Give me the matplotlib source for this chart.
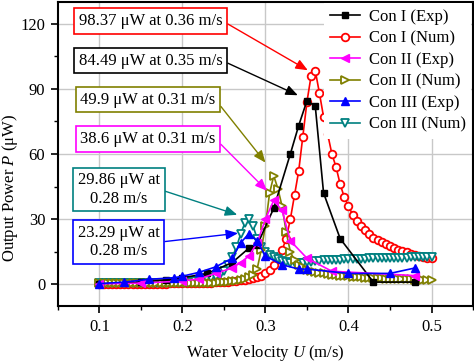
import matplotlib
matplotlib.use("Agg")
import matplotlib.pyplot as plt
from matplotlib.ticker import MultipleLocator

plt.rcParams['font.family'] = ['Liberation Serif', 'DejaVu Serif']
plt.rcParams['mathtext.fontset'] = 'custom'
plt.rcParams['mathtext.rm'] = 'Liberation Serif'
plt.rcParams['mathtext.it'] = 'Liberation Serif:italic'

# ---------------- data ----------------
x_num = [0.100, 0.105, 0.110, 0.115, 0.120, 0.125, 0.130, 0.135, 0.140, 0.145,
         0.150, 0.155, 0.160, 0.165, 0.170, 0.175, 0.180, 0.185, 0.190, 0.195,
         0.200, 0.205, 0.210, 0.215, 0.220, 0.225, 0.230, 0.235, 0.240, 0.245,
         0.250, 0.255, 0.260, 0.265, 0.270, 0.275, 0.280, 0.285, 0.290, 0.295,
         0.300, 0.305, 0.310, 0.315, 0.320, 0.325, 0.330, 0.335, 0.340, 0.345,
         0.350, 0.355, 0.360, 0.365, 0.370, 0.375, 0.380, 0.385, 0.390, 0.395,
         0.400, 0.405, 0.410, 0.415, 0.420, 0.425, 0.430, 0.435, 0.440, 0.445,
         0.450, 0.455, 0.460, 0.465, 0.470, 0.475, 0.480, 0.485, 0.490, 0.495,
         0.500]

con1_num = [0.1, 0.1, 0.1, 0.1, 0.1, 0.1, 0.2, 0.2, 0.2, 0.2,
            0.2, 0.2, 0.3, 0.3, 0.3, 0.3, 0.3, 0.4, 0.4, 0.4,
            0.5, 0.5, 0.5, 0.6, 0.6, 0.7, 0.7, 0.8, 0.9, 1.0,
            1.1, 1.2, 1.4, 1.6, 1.8, 2.1, 2.4, 2.8, 3.3, 4.0,
            5.0, 6.5, 9.0, 12.0, 15.7, 21, 30, 41, 52, 68,
            84, 96, 98.37, 88, 77, 69, 60, 54, 46, 40,
            36, 32, 29, 27, 25, 23, 21.5, 20.3, 19.3, 18.4,
            17.5, 16.7, 16.0, 15.3, 14.7, 14.1, 13.6, 13.1, 12.7, 12.3,
            12.0]

con2_num = [0.4, 0.4, 0.4, 0.4, 0.4, 0.4, 0.4, 0.4, 0.4, 0.4,
            0.4, 0.4, 0.4, 0.5, 0.5, 0.5, 0.5, 0.5, 0.5, 0.5,
            0.5, 0.5, 0.6, 0.6, 0.6, 0.7, 0.7, 0.8, 0.8, 0.9,
            1.0, 1.1, 1.3, 1.5, 1.8, 2.4, 3.2, 4.5, 7.0, 16,
            27, 42, 49.9, 44, 36, 24, 15, 11, 9.0, 7.8,
            6.8, 6.2, 5.7, 5.3, 5.0, 4.7, 4.4, 4.2, 4.0, 3.8,
            3.6, 3.4, 3.3, 3.2, 3.1, 3.0, 2.9, 2.8, 2.7, 2.6,
            2.5, 2.5, 2.4, 2.4, 2.3, 2.3, 2.2, 2.2, 2.1, 2.1,
            2.0]

con3_num = [0.5, 0.5, 0.5, 0.5, 0.5, 0.5, 0.5, 0.5, 0.5, 0.5,
            0.6, 0.6, 0.6, 0.7, 0.7, 0.7, 0.8, 0.8, 0.9, 0.9,
            1.0, 1.1, 1.2, 1.4, 1.6, 1.9, 2.3, 2.8, 3.3, 4.2,
            6.0, 9.0, 12.5, 17, 23, 28, 29.86, 27, 21, 17,
            15, 13.5, 12.5, 11.5, 10.7, 10.2, 9.8, 9.7, 9.8, 10.0,
            10.2, 10.4, 10.6, 10.8, 11.0, 11.1, 11.2, 11.3, 11.4, 11.5,
            11.6, 11.7, 11.7, 11.8, 11.8, 11.9, 11.9, 12.0, 12.0, 12.1,
            12.1, 12.2, 12.2, 12.3, 12.3, 12.4, 12.4, 12.5, 12.5, 12.5,
            12.6]

con1_exp_x = [0.10, 0.15, 0.18, 0.20, 0.23, 0.26, 0.28, 0.29, 0.31, 0.33,
              0.34, 0.35, 0.36, 0.37, 0.39, 0.43, 0.48]
con1_exp_y = [0.2, 1.0, 2.0, 3.0, 5.0, 10.0, 16.6, 18.0, 35.0, 60.0,
              73.0, 84.49, 82.0, 42.0, 21.0, 1.0, 1.0]

con2_exp_x = [0.10, 0.15, 0.20, 0.22, 0.24, 0.26, 0.27, 0.28, 0.29, 0.30,
              0.31, 0.32, 0.33, 0.35, 0.38, 0.48]
con2_exp_y = [0.2, 0.5, 1.5, 2.5, 5.0, 7.5, 10.0, 13.0, 19.0, 30.0,
              38.6, 34.0, 20.0, 12.0, 6.0, 4.0]

con3_exp_x = [0.10, 0.13, 0.16, 0.19, 0.20, 0.22, 0.24, 0.26, 0.27, 0.28,
              0.29, 0.30, 0.32, 0.34, 0.35, 0.40, 0.45, 0.48]
con3_exp_y = [0.3, 1.0, 2.3, 3.0, 3.7, 5.5, 8.0, 12.0, 19.0, 23.29,
              20.0, 13.0, 9.0, 7.0, 7.0, 5.0, 5.0, 7.5]

x_ticks = [0.1, 0.2, 0.3, 0.4, 0.5]
y_ticks = [0, 30, 60, 90, 120]

annotations = [
    ("98.37 \u03bcW at 0.36 m/s", (0.351, 98.5), (0.224, 0.937), 'red'),
    ("84.49 \u03bcW at 0.35 m/s", (0.339, 87.0), (0.224, 0.806), 'black'),
    ("49.9 \u03bcW at 0.31 m/s", (0.300, 56.0), (0.217, 0.678), '#808000'),
    ("38.6 \u03bcW at 0.31 m/s", (0.302, 43.0), (0.217, 0.549), '#ff00ff'),
    ("29.86 \u03bcW at\n0.28 m/s", (0.266, 32.0), (0.147, 0.383), '#008080'),
    ("23.29 \u03bcW at\n0.28 m/s", (0.267, 23.5), (0.147, 0.210), 'blue'),
]

# ---------------- figure ----------------
fig = plt.figure(figsize=(4.74, 3.63), dpi=100)
ax = fig.add_axes([0.122, 0.157, 0.876, 0.838])

ms = 5.5
mew = 1.3
l1, = ax.plot(con1_exp_x, con1_exp_y, color='black', marker='s', ms=5, lw=1.2,
              label='Con I (Exp)', zorder=3)
l2, = ax.plot(x_num, con1_num, color='red', marker='o', ms=ms, mfc='white',
              mew=mew, lw=1.2, label='Con I (Num)', zorder=2)
l3, = ax.plot(con2_exp_x, con2_exp_y, color='#ff00ff', marker='<', ms=ms, lw=1.2,
              label='Con II (Exp)', zorder=3)
l5, = ax.plot(con3_exp_x, con3_exp_y, color='blue', marker='^', ms=ms, lw=1.2,
              label='Con III (Exp)', zorder=3)
l6, = ax.plot(x_num, con3_num, color='#008080', marker='v', ms=ms, mfc='white',
              mew=mew, lw=1.2, label='Con III (Num)', zorder=2.5)
l4, = ax.plot(x_num, con2_num, color='#808000', marker='>', ms=ms, mfc='white',
              mew=mew, lw=1.2, label='Con II (Num)', zorder=2.8)

ax.set_xlim(0.05, 0.55)
ax.set_ylim(-10, 130)
ax.set_xticks(x_ticks)
ax.set_xticklabels([f"{v:.1f}" for v in x_ticks])
ax.set_yticks(y_ticks)
ax.xaxis.set_minor_locator(MultipleLocator(0.05))
ax.yaxis.set_minor_locator(MultipleLocator(15))
ax.grid(True, which='major', color='#c8c8c8', lw=1.0, zorder=0)
ax.set_axisbelow(True)

ax.tick_params(axis='both', which='major', direction='out', length=5, width=1.2,
               labelsize=12, pad=4)
ax.tick_params(axis='both', which='minor', direction='out', length=3, width=1.0)
for s in ax.spines.values():
    s.set_linewidth(1.5)

ax.set_xlabel("Water Velocity $\\it{U}$ (m/s)", fontsize=12, labelpad=6)
ax.set_ylabel("Output Power $\\it{P}$ (\u03bcW)", fontsize=12)
ax.yaxis.set_label_coords(-0.09, 0.39)

leg = ax.legend(handles=[l1, l2, l3, l4, l5, l6], loc='upper right',
                fontsize=12, frameon=True, fancybox=False, edgecolor='none',
                facecolor='white', framealpha=1, handlelength=1.8,
                handletextpad=0.5, labelspacing=0.33, borderaxespad=0.1,
                borderpad=0.35)

for text, tip, pos, col in annotations:
    ax.annotate(text, xy=tip, xycoords='data', xytext=pos,
                textcoords='axes fraction', ha='center', va='center',
                fontsize=12, multialignment='center', zorder=6,
                bbox=dict(boxstyle='square,pad=0.28', fc='white', ec=col, lw=1.2),
                arrowprops=dict(arrowstyle='-|>,head_length=0.6,head_width=0.25',
                                color=col, lw=1.0, relpos=(1.0, 0.5),
                                shrinkA=0, shrinkB=0))

fig.savefig("out.png", dpi=100)
